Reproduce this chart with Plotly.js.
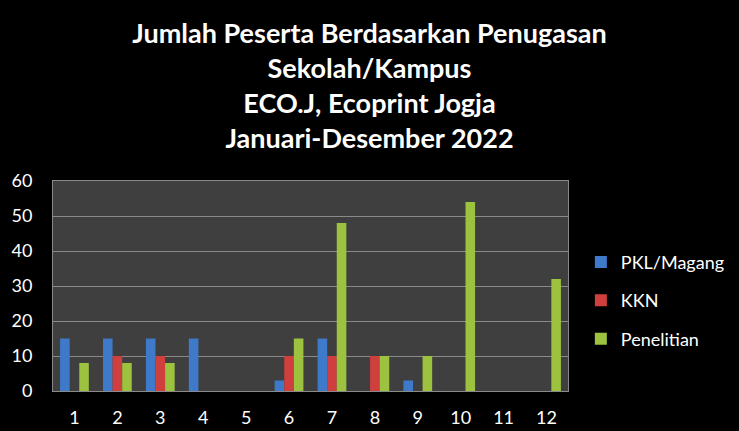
<!DOCTYPE html>
<html>
<head>
<meta charset="utf-8">
<script src="https://cdn.plot.ly/plotly-3.0.1.min.js"></script>
<style>
  body { margin: 0; background: #000; }
  #chart { width: 739px; height: 431px; }
</style>
</head>
<body>
<div id="chart"></div>
<script>
// bulan 1..12
const months = ['1', '2', '3', '4', '5', '6', '7', '8', '9', '10', '11', '12'];

const pklMagang = [15, 15, 15, 15, 0, 3, 15, 0, 3, 0, 0, 0];
const kkn = [0, 10, 10, 0, 0, 10, 10, 10, 0, 0, 0, 0];
const penelitian = [8, 8, 8, 0, 0, 15, 48, 10, 10, 54, 0, 32];

const yTicks = [0, 10, 20, 30, 40, 50, 60];

const font = 'Lato, "Open Sans", sans-serif';

const data = [
    { x: months, y: pklMagang, name: 'PKL/Magang', legendgroup: 'a', type: 'bar', marker: { color: '#3f79c9' } },
    { x: months, y: kkn, name: 'KKN', legendgroup: 'b', type: 'bar', marker: { color: '#cf3f3d' } },
    { x: months, y: penelitian, name: 'Penelitian', legendgroup: 'c', type: 'bar', marker: { color: '#9cc23f' } }
];

const layout = {
    width: 739,
    height: 431,
    paper_bgcolor: '#000000',
    plot_bgcolor: '#3f3f3f',
    margin: { l: 53, r: 171, t: 181, b: 40 },
    font: { family: font, color: '#ffffff', size: 18 },
    title: {
        text: 'Jumlah Peserta Berdasarkan Penugasan<br>Sekolah/Kampus<br>ECO.J, Ecoprint Jogja<br>Januari-Desember 2022',
        font: { family: font, size: 27, color: '#ffffff', weight: 'bold' },
        x: 0.5,
        xanchor: 'center',
        y: 0.9,
        yanchor: 'top'
    },
    barmode: 'group',
    bargap: 0.33,
    bargroupgap: 0,
    xaxis: {
        type: 'category',
        tickfont: { size: 18, color: '#ffffff' },
        showgrid: false,
        showline: true,
        linecolor: '#8a8a8a',
        mirror: true,
        ticks: '',
        ticklabelstandoff: 10
    },
    yaxis: {
        range: [0, 60],
        tickvals: yTicks,
        tickfont: { size: 18, color: '#ffffff' },
        gridcolor: '#8a8a8a',
        gridwidth: 1,
        showline: true,
        linecolor: '#8a8a8a',
        mirror: true,
        zeroline: false,
        ticks: '',
        ticklabelstandoff: 16
    },
    showlegend: true,
    legend: {
        xref: 'container',
        x: 0.786,
        y: 0.43,
        yanchor: 'middle',
        xanchor: 'left',
        font: { size: 18, color: '#ffffff' },
        bgcolor: 'rgba(0,0,0,0)',
        itemwidth: 30,
        tracegroupgap: 12
    }
};

Plotly.newPlot('chart', data, layout, { displayModeBar: false });
</script>
</body>
</html>
